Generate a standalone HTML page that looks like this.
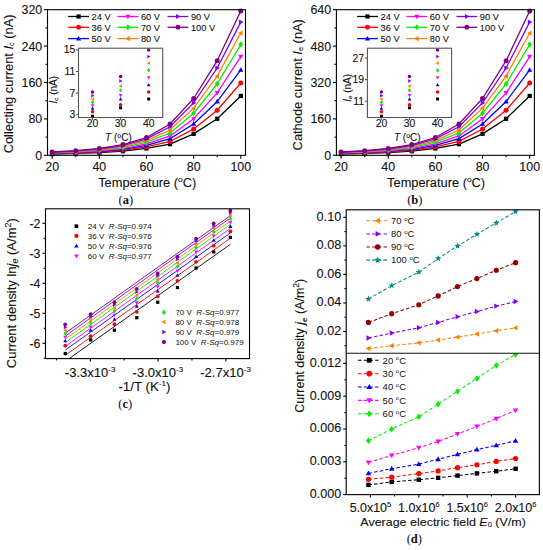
<!DOCTYPE html>
<html><head><meta charset="utf-8"><style>
html,body{margin:0;padding:0;background:#fff;width:543px;height:550px;overflow:hidden}
svg{display:block}
text{font-family:"Liberation Sans",sans-serif;fill:#111;stroke:#111;stroke-width:0.1px}
text.ns{stroke:none}
text.lab{font-family:"Liberation Serif",serif;stroke:none;fill:#111}
</style></head><body>
<svg width="543" height="550" viewBox="0 0 543 550">
<rect width="543" height="550" fill="#fff"/>
<clipPath id="clipab0"><rect x="47.5" y="9.7" width="198" height="145.6"/></clipPath>
<g>
<polyline points="52.21,154.06 75.79,153.35 99.36,152.61 122.93,151.22 146.5,148.48 170.07,144.15 193.64,133.92 217.21,118.76 240.79,95.97" fill="none" stroke="#000000" stroke-width="1.3"/>
<rect x="50.09" y="151.94" width="4.25" height="4.25" fill="#000000"/>
<rect x="73.66" y="151.23" width="4.25" height="4.25" fill="#000000"/>
<rect x="97.23" y="150.49" width="4.25" height="4.25" fill="#000000"/>
<rect x="120.8" y="149.1" width="4.25" height="4.25" fill="#000000"/>
<rect x="144.38" y="146.35" width="4.25" height="4.25" fill="#000000"/>
<rect x="167.95" y="142.03" width="4.25" height="4.25" fill="#000000"/>
<rect x="191.52" y="131.79" width="4.25" height="4.25" fill="#000000"/>
<rect x="215.09" y="116.64" width="4.25" height="4.25" fill="#000000"/>
<rect x="238.66" y="93.84" width="4.25" height="4.25" fill="#000000"/>
<polyline points="52.21,153.69 75.79,153.09 99.36,152.01 122.93,150.34 146.5,146.97 170.07,141.38 193.64,129.05 217.21,110.26 240.79,83" fill="none" stroke="#ff0000" stroke-width="1.3"/>
<circle cx="52.21" cy="153.69" r="2.5" fill="#ff0000"/>
<circle cx="75.79" cy="153.09" r="2.5" fill="#ff0000"/>
<circle cx="99.36" cy="152.01" r="2.5" fill="#ff0000"/>
<circle cx="122.93" cy="150.34" r="2.5" fill="#ff0000"/>
<circle cx="146.5" cy="146.97" r="2.5" fill="#ff0000"/>
<circle cx="170.07" cy="141.38" r="2.5" fill="#ff0000"/>
<circle cx="193.64" cy="129.05" r="2.5" fill="#ff0000"/>
<circle cx="217.21" cy="110.26" r="2.5" fill="#ff0000"/>
<circle cx="240.79" cy="83" r="2.5" fill="#ff0000"/>
<polyline points="52.21,153.41 75.79,152.63 99.36,151.42 122.93,149.34 146.5,145.43 170.07,138.6 193.64,123.95 217.21,101.56 240.79,69.9" fill="none" stroke="#0000ff" stroke-width="1.3"/>
<polygon points="52.21,150.66 49.59,155.29 54.84,155.29" fill="#0000ff"/>
<polygon points="75.79,149.88 73.16,154.5 78.41,154.5" fill="#0000ff"/>
<polygon points="99.36,148.67 96.73,153.3 101.98,153.3" fill="#0000ff"/>
<polygon points="122.93,146.59 120.3,151.21 125.55,151.21" fill="#0000ff"/>
<polygon points="146.5,142.68 143.88,147.3 149.12,147.3" fill="#0000ff"/>
<polygon points="170.07,135.85 167.45,140.48 172.7,140.48" fill="#0000ff"/>
<polygon points="193.64,121.2 191.02,125.83 196.27,125.83" fill="#0000ff"/>
<polygon points="217.21,98.81 214.59,103.44 219.84,103.44" fill="#0000ff"/>
<polygon points="240.79,67.15 238.16,71.77 243.41,71.77" fill="#0000ff"/>
<polyline points="52.21,153.17 75.79,152.29 99.36,150.81 122.93,148.57 146.5,143.83 170.07,135.92 193.64,118.76 217.21,92.97 240.79,56.61" fill="none" stroke="#ff00ff" stroke-width="1.3"/>
<polygon points="52.21,155.92 49.59,151.29 54.84,151.29" fill="#ff00ff"/>
<polygon points="75.79,155.04 73.16,150.42 78.41,150.42" fill="#ff00ff"/>
<polygon points="99.36,153.56 96.73,148.93 101.98,148.93" fill="#ff00ff"/>
<polygon points="122.93,151.32 120.3,146.69 125.55,146.69" fill="#ff00ff"/>
<polygon points="146.5,146.58 143.88,141.96 149.12,141.96" fill="#ff00ff"/>
<polygon points="170.07,138.67 167.45,134.04 172.7,134.04" fill="#ff00ff"/>
<polygon points="193.64,121.51 191.02,116.89 196.27,116.89" fill="#ff00ff"/>
<polygon points="217.21,95.72 214.59,91.09 219.84,91.09" fill="#ff00ff"/>
<polygon points="240.79,59.36 238.16,54.74 243.41,54.74" fill="#ff00ff"/>
<polyline points="52.21,152.89 75.79,151.89 99.36,150.19 122.93,147.61 146.5,142.2 170.07,133 193.64,113.17 217.21,83.91 240.79,44.46" fill="none" stroke="#00f000" stroke-width="1.3"/>
<polygon points="52.21,149.76 54.59,152.89 52.21,156.01 49.84,152.89" fill="#00f000"/>
<polygon points="75.79,148.76 78.16,151.89 75.79,155.01 73.41,151.89" fill="#00f000"/>
<polygon points="99.36,147.07 101.73,150.19 99.36,153.32 96.98,150.19" fill="#00f000"/>
<polygon points="122.93,144.49 125.3,147.61 122.93,150.74 120.55,147.61" fill="#00f000"/>
<polygon points="146.5,139.07 148.88,142.2 146.5,145.32 144.12,142.2" fill="#00f000"/>
<polygon points="170.07,129.88 172.45,133 170.07,136.13 167.7,133" fill="#00f000"/>
<polygon points="193.64,110.04 196.02,113.17 193.64,116.29 191.27,113.17" fill="#00f000"/>
<polygon points="217.21,80.79 219.59,83.91 217.21,87.04 214.84,83.91" fill="#00f000"/>
<polygon points="240.79,41.34 243.16,44.46 240.79,47.59 238.41,44.46" fill="#00f000"/>
<polyline points="52.21,152.61 75.79,151.52 99.36,149.59 122.93,146.66 146.5,140.56 170.07,130.05 193.64,108.16 217.21,76.13 240.79,33.04" fill="none" stroke="#ff8000" stroke-width="1.3"/>
<polygon points="49.46,152.61 54.09,149.99 54.09,155.24" fill="#ff8000"/>
<polygon points="73.04,151.52 77.66,148.89 77.66,154.14" fill="#ff8000"/>
<polygon points="96.61,149.59 101.23,146.97 101.23,152.22" fill="#ff8000"/>
<polygon points="120.18,146.66 124.8,144.03 124.8,149.28" fill="#ff8000"/>
<polygon points="143.75,140.56 148.38,137.93 148.38,143.18" fill="#ff8000"/>
<polygon points="167.32,130.05 171.95,127.42 171.95,132.67" fill="#ff8000"/>
<polygon points="190.89,108.16 195.52,105.54 195.52,110.79" fill="#ff8000"/>
<polygon points="214.46,76.13 219.09,73.51 219.09,78.76" fill="#ff8000"/>
<polygon points="238.04,33.04 242.66,30.42 242.66,35.67" fill="#ff8000"/>
<polyline points="52.21,152.33 75.79,151.09 99.36,149.04 122.93,145.65 146.5,138.92 170.07,126.73 193.64,102.88 217.21,68.03 240.79,22.08" fill="none" stroke="#8000ff" stroke-width="1.3"/>
<polygon points="54.96,152.33 50.34,149.71 50.34,154.96" fill="#8000ff"/>
<polygon points="78.54,151.09 73.91,148.46 73.91,153.71" fill="#8000ff"/>
<polygon points="102.11,149.04 97.48,146.41 97.48,151.66" fill="#8000ff"/>
<polygon points="125.68,145.65 121.05,143.03 121.05,148.28" fill="#8000ff"/>
<polygon points="149.25,138.92 144.62,136.3 144.62,141.55" fill="#8000ff"/>
<polygon points="172.82,126.73 168.2,124.1 168.2,129.35" fill="#8000ff"/>
<polygon points="196.39,102.88 191.77,100.26 191.77,105.51" fill="#8000ff"/>
<polygon points="219.96,68.03 215.34,65.41 215.34,70.66" fill="#8000ff"/>
<polygon points="243.54,22.08 238.91,19.45 238.91,24.7" fill="#8000ff"/>
<polyline points="52.21,152.02 75.79,150.72 99.36,148.48 122.93,144.61 146.5,137.51 170.07,124.04 193.64,98.47 217.21,60.66 240.79,10.97" fill="none" stroke="#800080" stroke-width="1.3"/>
<circle cx="52.21" cy="152.02" r="2.5" fill="#800080"/>
<circle cx="75.79" cy="150.72" r="2.5" fill="#800080"/>
<circle cx="99.36" cy="148.48" r="2.5" fill="#800080"/>
<circle cx="122.93" cy="144.61" r="2.5" fill="#800080"/>
<circle cx="146.5" cy="137.51" r="2.5" fill="#800080"/>
<circle cx="170.07" cy="124.04" r="2.5" fill="#800080"/>
<circle cx="193.64" cy="98.47" r="2.5" fill="#800080"/>
<circle cx="217.21" cy="60.66" r="2.5" fill="#800080"/>
<circle cx="240.79" cy="10.97" r="2.5" fill="#800080"/>
</g>
<rect x="47.5" y="9.7" width="198" height="145.6" fill="none" stroke="#000" stroke-width="1.1"/>
<line x1="52.21" y1="155.3" x2="52.21" y2="158.8" stroke="#000" stroke-width="1.1" />
<line x1="75.79" y1="155.3" x2="75.79" y2="157.3" stroke="#000" stroke-width="1.1" />
<line x1="99.36" y1="155.3" x2="99.36" y2="158.8" stroke="#000" stroke-width="1.1" />
<line x1="122.93" y1="155.3" x2="122.93" y2="157.3" stroke="#000" stroke-width="1.1" />
<line x1="146.5" y1="155.3" x2="146.5" y2="158.8" stroke="#000" stroke-width="1.1" />
<line x1="170.07" y1="155.3" x2="170.07" y2="157.3" stroke="#000" stroke-width="1.1" />
<line x1="193.64" y1="155.3" x2="193.64" y2="158.8" stroke="#000" stroke-width="1.1" />
<line x1="217.21" y1="155.3" x2="217.21" y2="157.3" stroke="#000" stroke-width="1.1" />
<line x1="240.79" y1="155.3" x2="240.79" y2="158.8" stroke="#000" stroke-width="1.1" />
<line x1="47.5" y1="155.3" x2="44" y2="155.3" stroke="#000" stroke-width="1.1" />
<line x1="47.5" y1="137.1" x2="45.5" y2="137.1" stroke="#000" stroke-width="1.1" />
<line x1="47.5" y1="118.9" x2="44" y2="118.9" stroke="#000" stroke-width="1.1" />
<line x1="47.5" y1="100.7" x2="45.5" y2="100.7" stroke="#000" stroke-width="1.1" />
<line x1="47.5" y1="82.5" x2="44" y2="82.5" stroke="#000" stroke-width="1.1" />
<line x1="47.5" y1="64.3" x2="45.5" y2="64.3" stroke="#000" stroke-width="1.1" />
<line x1="47.5" y1="46.1" x2="44" y2="46.1" stroke="#000" stroke-width="1.1" />
<line x1="47.5" y1="27.9" x2="45.5" y2="27.9" stroke="#000" stroke-width="1.1" />
<line x1="47.5" y1="9.7" x2="44" y2="9.7" stroke="#000" stroke-width="1.1" />
<text x="52.21" y="170.6" font-size="12.4" text-anchor="middle" >20</text>
<text x="99.36" y="170.6" font-size="12.4" text-anchor="middle" >40</text>
<text x="146.5" y="170.6" font-size="12.4" text-anchor="middle" >60</text>
<text x="193.64" y="170.6" font-size="12.4" text-anchor="middle" >80</text>
<text x="240.79" y="170.6" font-size="12.4" text-anchor="middle" >100</text>
<text x="42.2" y="159.7" font-size="12.4" text-anchor="end" >0</text>
<text x="42.2" y="123.3" font-size="12.4" text-anchor="end" >80</text>
<text x="42.2" y="86.9" font-size="12.4" text-anchor="end" >160</text>
<text x="42.2" y="50.5" font-size="12.4" text-anchor="end" >240</text>
<text x="42.2" y="14.1" font-size="12.4" text-anchor="end" >320</text>
<text x="147.2" y="187.1" font-size="12.3" text-anchor="middle" textLength="98" lengthAdjust="spacingAndGlyphs">Temperature (<tspan dy="-5" font-size="8">o</tspan><tspan dy="5">C)</tspan></text>
<text transform="translate(13.2,83.85) rotate(-90)" font-size="12.3" text-anchor="middle" textLength="139" lengthAdjust="spacingAndGlyphs">Collecting current <tspan font-style="italic">I</tspan><tspan font-size="7" dy="1">c</tspan><tspan dy="-1"> (nA)</tspan></text>
<text class="lab" x="125.9" y="203.9" font-size="12.5" text-anchor="middle">(<tspan font-weight="bold">a</tspan>)</text>
<line x1="68.2" y1="16.5" x2="89" y2="16.5" stroke="#000000" stroke-width="1.3" />
<rect x="76.52" y="14.42" width="4.17" height="4.17" fill="#000000"/>
<text x="91.6" y="19.8" font-size="9.3" text-anchor="start" >24 V</text>
<line x1="68.2" y1="27.3" x2="89" y2="27.3" stroke="#ff0000" stroke-width="1.3" />
<circle cx="78.6" cy="27.3" r="2.45" fill="#ff0000"/>
<text x="91.6" y="30.6" font-size="9.3" text-anchor="start" >36 V</text>
<line x1="68.2" y1="38.6" x2="89" y2="38.6" stroke="#0000ff" stroke-width="1.3" />
<polygon points="78.6,35.91 76.03,40.44 81.17,40.44" fill="#0000ff"/>
<text x="91.6" y="41.9" font-size="9.3" text-anchor="start" >50 V</text>
<line x1="117.5" y1="16.5" x2="138.3" y2="16.5" stroke="#ff00ff" stroke-width="1.3" />
<polygon points="127.9,19.2 125.33,14.66 130.47,14.66" fill="#ff00ff"/>
<text x="140.9" y="19.8" font-size="9.3" text-anchor="start" >60 V</text>
<line x1="117.5" y1="27.3" x2="138.3" y2="27.3" stroke="#00f000" stroke-width="1.3" />
<polygon points="127.9,24.24 130.23,27.3 127.9,30.36 125.57,27.3" fill="#00f000"/>
<text x="140.9" y="30.6" font-size="9.3" text-anchor="start" >70 V</text>
<line x1="117.5" y1="38.6" x2="138.3" y2="38.6" stroke="#ff8000" stroke-width="1.3" />
<polygon points="125.21,38.6 129.74,36.03 129.74,41.17" fill="#ff8000"/>
<text x="140.9" y="41.9" font-size="9.3" text-anchor="start" >80 V</text>
<line x1="167.5" y1="16.5" x2="188.3" y2="16.5" stroke="#8000ff" stroke-width="1.3" />
<polygon points="180.59,16.5 176.06,13.93 176.06,19.07" fill="#8000ff"/>
<text x="190.9" y="19.8" font-size="9.3" text-anchor="start" >90 V</text>
<line x1="167.5" y1="27.3" x2="188.3" y2="27.3" stroke="#800080" stroke-width="1.3" />
<circle cx="177.9" cy="27.3" r="2.45" fill="#800080"/>
<text x="190.9" y="30.6" font-size="9.3" text-anchor="start" >100 V</text>
<rect x="78.5" y="48.2" width="84.2" height="69.3" fill="#fff" stroke="#555" stroke-width="1.1"/>
<clipPath id="clipin0"><rect x="78.5" y="48.2" width="84.2" height="69.3"/></clipPath>
<g clip-path="url(#clipin0)">
<rect x="91.05" y="114.72" width="2.98" height="2.98" fill="#000000"/>
<rect x="119.11" y="106.3" width="2.98" height="2.98" fill="#000000"/>
<rect x="147.18" y="97.5" width="2.98" height="2.98" fill="#000000"/>
<circle cx="92.53" cy="111.78" r="1.75" fill="#ff0000"/>
<circle cx="120.6" cy="104.71" r="1.75" fill="#ff0000"/>
<circle cx="148.67" cy="91.91" r="1.75" fill="#ff0000"/>
<polygon points="92.53,106.56 90.7,109.8 94.37,109.8" fill="#0000ff"/>
<polygon points="120.6,97.28 118.76,100.51 122.44,100.51" fill="#0000ff"/>
<polygon points="148.67,82.97 146.83,86.2 150.5,86.2" fill="#0000ff"/>
<polygon points="92.53,107.5 90.7,104.26 94.37,104.26" fill="#ff00ff"/>
<polygon points="120.6,97.13 118.76,93.89 122.44,93.89" fill="#ff00ff"/>
<polygon points="148.67,79.53 146.83,76.29 150.5,76.29" fill="#ff00ff"/>
<polygon points="92.53,100.09 94.2,102.28 92.53,104.47 90.87,102.28" fill="#00f000"/>
<polygon points="120.6,88.21 122.26,90.4 120.6,92.59 118.94,90.4" fill="#00f000"/>
<polygon points="148.67,68.12 150.33,70.31 148.67,72.5 147,70.31" fill="#00f000"/>
<polygon points="90.61,98.99 93.85,97.15 93.85,100.82" fill="#ff8000"/>
<polygon points="118.67,86.03 121.91,84.19 121.91,87.86" fill="#ff8000"/>
<polygon points="146.74,63.18 149.98,61.35 149.98,65.02" fill="#ff8000"/>
<polygon points="94.46,95.69 91.22,93.85 91.22,97.53" fill="#8000ff"/>
<polygon points="122.52,80.9 119.29,79.06 119.29,82.73" fill="#8000ff"/>
<polygon points="150.59,56.6 147.35,54.76 147.35,58.43" fill="#8000ff"/>
<circle cx="92.53" cy="92.02" r="1.75" fill="#800080"/>
<circle cx="120.6" cy="76.52" r="1.75" fill="#800080"/>
<circle cx="148.67" cy="49.9" r="1.75" fill="#800080"/>
</g>
<line x1="92.53" y1="117.5" x2="92.53" y2="120" stroke="#555" stroke-width="1.0" />
<text x="92.53" y="127.2" font-size="10.4" text-anchor="middle" >20</text>
<line x1="120.6" y1="117.5" x2="120.6" y2="120" stroke="#555" stroke-width="1.0" />
<text x="120.6" y="127.2" font-size="10.4" text-anchor="middle" >30</text>
<line x1="148.67" y1="117.5" x2="148.67" y2="120" stroke="#555" stroke-width="1.0" />
<text x="148.67" y="127.2" font-size="10.4" text-anchor="middle" >40</text>
<line x1="78.5" y1="114.7" x2="76" y2="114.7" stroke="#555" stroke-width="1.0" />
<text x="75.2" y="118.2" font-size="10.4" text-anchor="end" >3</text>
<line x1="78.5" y1="93.1" x2="76" y2="93.1" stroke="#555" stroke-width="1.0" />
<text x="75.2" y="96.6" font-size="10.4" text-anchor="end" >7</text>
<line x1="78.5" y1="71.5" x2="76" y2="71.5" stroke="#555" stroke-width="1.0" />
<text x="75.2" y="75" font-size="10.4" text-anchor="end" >11</text>
<line x1="78.5" y1="49.9" x2="76" y2="49.9" stroke="#555" stroke-width="1.0" />
<text x="75.2" y="53.4" font-size="10.4" text-anchor="end" >15</text>
<text x="118.4" y="141.4" font-size="10" text-anchor="middle" ><tspan font-style="italic">T</tspan> (<tspan dy="-3.8" font-size="7">o</tspan><tspan dy="3.8">C)</tspan></text>
<text transform="translate(56.6,89.7) rotate(-90)" font-size="10" text-anchor="middle"><tspan font-style="italic">I</tspan><tspan font-size="6" dy="1">c</tspan><tspan dy="-1"> (nA)</tspan></text>
<clipPath id="clipab288"><rect x="336.4" y="9.7" width="198" height="145.6"/></clipPath>
<g>
<polyline points="341.11,154.06 364.69,153.35 388.26,152.61 411.83,151.22 435.4,148.48 458.97,144.15 482.54,133.92 506.11,118.76 529.69,95.97" fill="none" stroke="#000000" stroke-width="1.3"/>
<rect x="338.99" y="151.94" width="4.25" height="4.25" fill="#000000"/>
<rect x="362.56" y="151.23" width="4.25" height="4.25" fill="#000000"/>
<rect x="386.13" y="150.49" width="4.25" height="4.25" fill="#000000"/>
<rect x="409.7" y="149.1" width="4.25" height="4.25" fill="#000000"/>
<rect x="433.27" y="146.35" width="4.25" height="4.25" fill="#000000"/>
<rect x="456.85" y="142.03" width="4.25" height="4.25" fill="#000000"/>
<rect x="480.42" y="131.79" width="4.25" height="4.25" fill="#000000"/>
<rect x="503.99" y="116.64" width="4.25" height="4.25" fill="#000000"/>
<rect x="527.56" y="93.84" width="4.25" height="4.25" fill="#000000"/>
<polyline points="341.11,153.69 364.69,153.09 388.26,152.01 411.83,150.34 435.4,146.97 458.97,141.38 482.54,129.05 506.11,110.26 529.69,83" fill="none" stroke="#ff0000" stroke-width="1.3"/>
<circle cx="341.11" cy="153.69" r="2.5" fill="#ff0000"/>
<circle cx="364.69" cy="153.09" r="2.5" fill="#ff0000"/>
<circle cx="388.26" cy="152.01" r="2.5" fill="#ff0000"/>
<circle cx="411.83" cy="150.34" r="2.5" fill="#ff0000"/>
<circle cx="435.4" cy="146.97" r="2.5" fill="#ff0000"/>
<circle cx="458.97" cy="141.38" r="2.5" fill="#ff0000"/>
<circle cx="482.54" cy="129.05" r="2.5" fill="#ff0000"/>
<circle cx="506.11" cy="110.26" r="2.5" fill="#ff0000"/>
<circle cx="529.69" cy="83" r="2.5" fill="#ff0000"/>
<polyline points="341.11,153.41 364.69,152.63 388.26,151.42 411.83,149.34 435.4,145.43 458.97,138.6 482.54,123.95 506.11,101.56 529.69,69.9" fill="none" stroke="#0000ff" stroke-width="1.3"/>
<polygon points="341.11,150.66 338.49,155.29 343.74,155.29" fill="#0000ff"/>
<polygon points="364.69,149.88 362.06,154.5 367.31,154.5" fill="#0000ff"/>
<polygon points="388.26,148.67 385.63,153.3 390.88,153.3" fill="#0000ff"/>
<polygon points="411.83,146.59 409.2,151.21 414.45,151.21" fill="#0000ff"/>
<polygon points="435.4,142.68 432.77,147.3 438.02,147.3" fill="#0000ff"/>
<polygon points="458.97,135.85 456.35,140.48 461.6,140.48" fill="#0000ff"/>
<polygon points="482.54,121.2 479.92,125.83 485.17,125.83" fill="#0000ff"/>
<polygon points="506.11,98.81 503.49,103.44 508.74,103.44" fill="#0000ff"/>
<polygon points="529.69,67.15 527.06,71.77 532.31,71.77" fill="#0000ff"/>
<polyline points="341.11,153.17 364.69,152.29 388.26,150.81 411.83,148.57 435.4,143.83 458.97,135.92 482.54,118.76 506.11,92.97 529.69,56.61" fill="none" stroke="#ff00ff" stroke-width="1.3"/>
<polygon points="341.11,155.92 338.49,151.29 343.74,151.29" fill="#ff00ff"/>
<polygon points="364.69,155.04 362.06,150.42 367.31,150.42" fill="#ff00ff"/>
<polygon points="388.26,153.56 385.63,148.93 390.88,148.93" fill="#ff00ff"/>
<polygon points="411.83,151.32 409.2,146.69 414.45,146.69" fill="#ff00ff"/>
<polygon points="435.4,146.58 432.77,141.96 438.02,141.96" fill="#ff00ff"/>
<polygon points="458.97,138.67 456.35,134.04 461.6,134.04" fill="#ff00ff"/>
<polygon points="482.54,121.51 479.92,116.89 485.17,116.89" fill="#ff00ff"/>
<polygon points="506.11,95.72 503.49,91.09 508.74,91.09" fill="#ff00ff"/>
<polygon points="529.69,59.36 527.06,54.74 532.31,54.74" fill="#ff00ff"/>
<polyline points="341.11,152.89 364.69,151.89 388.26,150.19 411.83,147.61 435.4,142.2 458.97,133 482.54,113.17 506.11,83.91 529.69,44.46" fill="none" stroke="#00f000" stroke-width="1.3"/>
<polygon points="341.11,149.76 343.49,152.89 341.11,156.01 338.74,152.89" fill="#00f000"/>
<polygon points="364.69,148.76 367.06,151.89 364.69,155.01 362.31,151.89" fill="#00f000"/>
<polygon points="388.26,147.07 390.63,150.19 388.26,153.32 385.88,150.19" fill="#00f000"/>
<polygon points="411.83,144.49 414.2,147.61 411.83,150.74 409.45,147.61" fill="#00f000"/>
<polygon points="435.4,139.07 437.77,142.2 435.4,145.32 433.02,142.2" fill="#00f000"/>
<polygon points="458.97,129.88 461.35,133 458.97,136.13 456.6,133" fill="#00f000"/>
<polygon points="482.54,110.04 484.92,113.17 482.54,116.29 480.17,113.17" fill="#00f000"/>
<polygon points="506.11,80.79 508.49,83.91 506.11,87.04 503.74,83.91" fill="#00f000"/>
<polygon points="529.69,41.34 532.06,44.46 529.69,47.59 527.31,44.46" fill="#00f000"/>
<polyline points="341.11,152.61 364.69,151.52 388.26,149.59 411.83,146.66 435.4,140.56 458.97,130.05 482.54,108.16 506.11,76.13 529.69,33.04" fill="none" stroke="#ff8000" stroke-width="1.3"/>
<polygon points="338.36,152.61 342.99,149.99 342.99,155.24" fill="#ff8000"/>
<polygon points="361.94,151.52 366.56,148.89 366.56,154.14" fill="#ff8000"/>
<polygon points="385.51,149.59 390.13,146.97 390.13,152.22" fill="#ff8000"/>
<polygon points="409.08,146.66 413.7,144.03 413.7,149.28" fill="#ff8000"/>
<polygon points="432.65,140.56 437.27,137.93 437.27,143.18" fill="#ff8000"/>
<polygon points="456.22,130.05 460.85,127.42 460.85,132.67" fill="#ff8000"/>
<polygon points="479.79,108.16 484.42,105.54 484.42,110.79" fill="#ff8000"/>
<polygon points="503.36,76.13 507.99,73.51 507.99,78.76" fill="#ff8000"/>
<polygon points="526.94,33.04 531.56,30.42 531.56,35.67" fill="#ff8000"/>
<polyline points="341.11,152.33 364.69,151.09 388.26,149.04 411.83,145.65 435.4,138.92 458.97,126.73 482.54,102.88 506.11,68.03 529.69,22.08" fill="none" stroke="#8000ff" stroke-width="1.3"/>
<polygon points="343.86,152.33 339.24,149.71 339.24,154.96" fill="#8000ff"/>
<polygon points="367.44,151.09 362.81,148.46 362.81,153.71" fill="#8000ff"/>
<polygon points="391.01,149.04 386.38,146.41 386.38,151.66" fill="#8000ff"/>
<polygon points="414.58,145.65 409.95,143.03 409.95,148.28" fill="#8000ff"/>
<polygon points="438.15,138.92 433.52,136.3 433.52,141.55" fill="#8000ff"/>
<polygon points="461.72,126.73 457.1,124.1 457.1,129.35" fill="#8000ff"/>
<polygon points="485.29,102.88 480.67,100.26 480.67,105.51" fill="#8000ff"/>
<polygon points="508.86,68.03 504.24,65.41 504.24,70.66" fill="#8000ff"/>
<polygon points="532.44,22.08 527.81,19.45 527.81,24.7" fill="#8000ff"/>
<polyline points="341.11,152.02 364.69,150.72 388.26,148.48 411.83,144.61 435.4,137.51 458.97,124.04 482.54,98.47 506.11,60.66 529.69,10.97" fill="none" stroke="#800080" stroke-width="1.3"/>
<circle cx="341.11" cy="152.02" r="2.5" fill="#800080"/>
<circle cx="364.69" cy="150.72" r="2.5" fill="#800080"/>
<circle cx="388.26" cy="148.48" r="2.5" fill="#800080"/>
<circle cx="411.83" cy="144.61" r="2.5" fill="#800080"/>
<circle cx="435.4" cy="137.51" r="2.5" fill="#800080"/>
<circle cx="458.97" cy="124.04" r="2.5" fill="#800080"/>
<circle cx="482.54" cy="98.47" r="2.5" fill="#800080"/>
<circle cx="506.11" cy="60.66" r="2.5" fill="#800080"/>
<circle cx="529.69" cy="10.97" r="2.5" fill="#800080"/>
</g>
<rect x="336.4" y="9.7" width="198" height="145.6" fill="none" stroke="#000" stroke-width="1.1"/>
<line x1="341.11" y1="155.3" x2="341.11" y2="158.8" stroke="#000" stroke-width="1.1" />
<line x1="364.69" y1="155.3" x2="364.69" y2="157.3" stroke="#000" stroke-width="1.1" />
<line x1="388.26" y1="155.3" x2="388.26" y2="158.8" stroke="#000" stroke-width="1.1" />
<line x1="411.83" y1="155.3" x2="411.83" y2="157.3" stroke="#000" stroke-width="1.1" />
<line x1="435.4" y1="155.3" x2="435.4" y2="158.8" stroke="#000" stroke-width="1.1" />
<line x1="458.97" y1="155.3" x2="458.97" y2="157.3" stroke="#000" stroke-width="1.1" />
<line x1="482.54" y1="155.3" x2="482.54" y2="158.8" stroke="#000" stroke-width="1.1" />
<line x1="506.11" y1="155.3" x2="506.11" y2="157.3" stroke="#000" stroke-width="1.1" />
<line x1="529.69" y1="155.3" x2="529.69" y2="158.8" stroke="#000" stroke-width="1.1" />
<line x1="336.4" y1="155.3" x2="332.9" y2="155.3" stroke="#000" stroke-width="1.1" />
<line x1="336.4" y1="137.1" x2="334.4" y2="137.1" stroke="#000" stroke-width="1.1" />
<line x1="336.4" y1="118.9" x2="332.9" y2="118.9" stroke="#000" stroke-width="1.1" />
<line x1="336.4" y1="100.7" x2="334.4" y2="100.7" stroke="#000" stroke-width="1.1" />
<line x1="336.4" y1="82.5" x2="332.9" y2="82.5" stroke="#000" stroke-width="1.1" />
<line x1="336.4" y1="64.3" x2="334.4" y2="64.3" stroke="#000" stroke-width="1.1" />
<line x1="336.4" y1="46.1" x2="332.9" y2="46.1" stroke="#000" stroke-width="1.1" />
<line x1="336.4" y1="27.9" x2="334.4" y2="27.9" stroke="#000" stroke-width="1.1" />
<line x1="336.4" y1="9.7" x2="332.9" y2="9.7" stroke="#000" stroke-width="1.1" />
<text x="341.11" y="170.6" font-size="12.4" text-anchor="middle" >20</text>
<text x="388.26" y="170.6" font-size="12.4" text-anchor="middle" >40</text>
<text x="435.4" y="170.6" font-size="12.4" text-anchor="middle" >60</text>
<text x="482.54" y="170.6" font-size="12.4" text-anchor="middle" >80</text>
<text x="529.69" y="170.6" font-size="12.4" text-anchor="middle" >100</text>
<text x="331.1" y="159.7" font-size="12.4" text-anchor="end" >0</text>
<text x="331.1" y="123.3" font-size="12.4" text-anchor="end" >160</text>
<text x="331.1" y="86.9" font-size="12.4" text-anchor="end" >320</text>
<text x="331.1" y="50.5" font-size="12.4" text-anchor="end" >480</text>
<text x="331.1" y="14.1" font-size="12.4" text-anchor="end" >640</text>
<text x="436.1" y="187.1" font-size="12.3" text-anchor="middle" textLength="98" lengthAdjust="spacingAndGlyphs">Temperature (<tspan dy="-5" font-size="8">o</tspan><tspan dy="5">C)</tspan></text>
<text transform="translate(302.1,84.75) rotate(-90)" font-size="12.3" text-anchor="middle" textLength="131.3" lengthAdjust="spacingAndGlyphs">Cathode current <tspan font-style="italic">I</tspan><tspan font-size="7" dy="1">e</tspan><tspan dy="-1"> (nA)</tspan></text>
<text class="lab" x="414.8" y="203.9" font-size="12.5" text-anchor="middle">(<tspan font-weight="bold">b</tspan>)</text>
<line x1="357.1" y1="16.5" x2="377.9" y2="16.5" stroke="#000000" stroke-width="1.3" />
<rect x="365.42" y="14.42" width="4.17" height="4.17" fill="#000000"/>
<text x="380.5" y="19.8" font-size="9.3" text-anchor="start" >24 V</text>
<line x1="357.1" y1="27.3" x2="377.9" y2="27.3" stroke="#ff0000" stroke-width="1.3" />
<circle cx="367.5" cy="27.3" r="2.45" fill="#ff0000"/>
<text x="380.5" y="30.6" font-size="9.3" text-anchor="start" >36 V</text>
<line x1="357.1" y1="38.6" x2="377.9" y2="38.6" stroke="#0000ff" stroke-width="1.3" />
<polygon points="367.5,35.91 364.93,40.44 370.07,40.44" fill="#0000ff"/>
<text x="380.5" y="41.9" font-size="9.3" text-anchor="start" >50 V</text>
<line x1="406.4" y1="16.5" x2="427.2" y2="16.5" stroke="#ff00ff" stroke-width="1.3" />
<polygon points="416.8,19.2 414.23,14.66 419.37,14.66" fill="#ff00ff"/>
<text x="429.8" y="19.8" font-size="9.3" text-anchor="start" >60 V</text>
<line x1="406.4" y1="27.3" x2="427.2" y2="27.3" stroke="#00f000" stroke-width="1.3" />
<polygon points="416.8,24.24 419.13,27.3 416.8,30.36 414.47,27.3" fill="#00f000"/>
<text x="429.8" y="30.6" font-size="9.3" text-anchor="start" >70 V</text>
<line x1="406.4" y1="38.6" x2="427.2" y2="38.6" stroke="#ff8000" stroke-width="1.3" />
<polygon points="414.1,38.6 418.64,36.03 418.64,41.17" fill="#ff8000"/>
<text x="429.8" y="41.9" font-size="9.3" text-anchor="start" >80 V</text>
<line x1="456.4" y1="16.5" x2="477.2" y2="16.5" stroke="#8000ff" stroke-width="1.3" />
<polygon points="469.49,16.5 464.96,13.93 464.96,19.07" fill="#8000ff"/>
<text x="479.8" y="19.8" font-size="9.3" text-anchor="start" >90 V</text>
<line x1="456.4" y1="27.3" x2="477.2" y2="27.3" stroke="#800080" stroke-width="1.3" />
<circle cx="466.8" cy="27.3" r="2.45" fill="#800080"/>
<text x="479.8" y="30.6" font-size="9.3" text-anchor="start" >100 V</text>
<rect x="367.4" y="48.2" width="84.2" height="69.3" fill="#fff" stroke="#555" stroke-width="1.1"/>
<clipPath id="clipin288"><rect x="367.4" y="48.2" width="84.2" height="69.3"/></clipPath>
<g clip-path="url(#clipin288)">
<rect x="379.95" y="114.72" width="2.98" height="2.98" fill="#000000"/>
<rect x="408.01" y="106.3" width="2.98" height="2.98" fill="#000000"/>
<rect x="436.08" y="97.5" width="2.98" height="2.98" fill="#000000"/>
<circle cx="381.43" cy="111.78" r="1.75" fill="#ff0000"/>
<circle cx="409.5" cy="104.71" r="1.75" fill="#ff0000"/>
<circle cx="437.57" cy="91.91" r="1.75" fill="#ff0000"/>
<polygon points="381.43,106.56 379.6,109.8 383.27,109.8" fill="#0000ff"/>
<polygon points="409.5,97.28 407.66,100.51 411.34,100.51" fill="#0000ff"/>
<polygon points="437.57,82.97 435.73,86.2 439.4,86.2" fill="#0000ff"/>
<polygon points="381.43,107.5 379.6,104.26 383.27,104.26" fill="#ff00ff"/>
<polygon points="409.5,97.13 407.66,93.89 411.34,93.89" fill="#ff00ff"/>
<polygon points="437.57,79.53 435.73,76.29 439.4,76.29" fill="#ff00ff"/>
<polygon points="381.43,100.09 383.1,102.28 381.43,104.47 379.77,102.28" fill="#00f000"/>
<polygon points="409.5,88.21 411.16,90.4 409.5,92.59 407.84,90.4" fill="#00f000"/>
<polygon points="437.57,68.12 439.23,70.31 437.57,72.5 435.9,70.31" fill="#00f000"/>
<polygon points="379.51,98.99 382.75,97.15 382.75,100.82" fill="#ff8000"/>
<polygon points="407.57,86.03 410.81,84.19 410.81,87.86" fill="#ff8000"/>
<polygon points="435.64,63.18 438.88,61.35 438.88,65.02" fill="#ff8000"/>
<polygon points="383.36,95.69 380.12,93.85 380.12,97.53" fill="#8000ff"/>
<polygon points="411.43,80.9 408.19,79.06 408.19,82.73" fill="#8000ff"/>
<polygon points="439.49,56.6 436.25,54.76 436.25,58.43" fill="#8000ff"/>
<circle cx="381.43" cy="92.02" r="1.75" fill="#800080"/>
<circle cx="409.5" cy="76.52" r="1.75" fill="#800080"/>
<circle cx="437.57" cy="49.9" r="1.75" fill="#800080"/>
</g>
<line x1="381.43" y1="117.5" x2="381.43" y2="120" stroke="#555" stroke-width="1.0" />
<text x="381.43" y="127.2" font-size="10.4" text-anchor="middle" >20</text>
<line x1="409.5" y1="117.5" x2="409.5" y2="120" stroke="#555" stroke-width="1.0" />
<text x="409.5" y="127.2" font-size="10.4" text-anchor="middle" >30</text>
<line x1="437.57" y1="117.5" x2="437.57" y2="120" stroke="#555" stroke-width="1.0" />
<text x="437.57" y="127.2" font-size="10.4" text-anchor="middle" >40</text>
<line x1="367.4" y1="101.2" x2="364.9" y2="101.2" stroke="#555" stroke-width="1.0" />
<text x="364.1" y="104.7" font-size="10.4" text-anchor="end" >11</text>
<line x1="367.4" y1="79.6" x2="364.9" y2="79.6" stroke="#555" stroke-width="1.0" />
<text x="364.1" y="83.1" font-size="10.4" text-anchor="end" >19</text>
<line x1="367.4" y1="58" x2="364.9" y2="58" stroke="#555" stroke-width="1.0" />
<text x="364.1" y="61.5" font-size="10.4" text-anchor="end" >27</text>
<text x="407.3" y="141.4" font-size="10" text-anchor="middle" ><tspan font-style="italic">T</tspan> (<tspan dy="-3.8" font-size="7">o</tspan><tspan dy="3.8">C)</tspan></text>
<text transform="translate(350.8,87.8) rotate(-90)" font-size="10" text-anchor="middle"><tspan font-style="italic">I</tspan><tspan font-size="6" dy="1">e</tspan><tspan dy="-1"> (nA)</tspan></text>
<clipPath id="clipc"><rect x="45.5" y="208.8" width="204" height="149.8"/></clipPath>
<g clip-path="url(#clipc)">
<line x1="65.25" y1="361.33" x2="230.38" y2="244.31" stroke="#000000" stroke-width="0.9" />
<line x1="65.25" y1="355.3" x2="230.38" y2="238.22" stroke="#ff0000" stroke-width="0.9" />
<line x1="65.25" y1="350.09" x2="230.38" y2="232.95" stroke="#0000ff" stroke-width="0.9" />
<line x1="65.25" y1="346.39" x2="230.38" y2="228.35" stroke="#ff00ff" stroke-width="0.9" />
<line x1="65.25" y1="342.57" x2="230.38" y2="224.34" stroke="#00f000" stroke-width="0.9" />
<line x1="65.25" y1="339.2" x2="230.38" y2="221.06" stroke="#ff8000" stroke-width="0.9" />
<line x1="65.25" y1="336.05" x2="230.38" y2="218.03" stroke="#8000ff" stroke-width="0.9" />
<line x1="65.25" y1="333.19" x2="230.38" y2="215.6" stroke="#800080" stroke-width="0.9" />
<rect x="63.63" y="351.87" width="3.23" height="3.23" fill="#000000"/>
<rect x="89.04" y="338.27" width="3.23" height="3.23" fill="#000000"/>
<rect x="112.82" y="328.59" width="3.23" height="3.23" fill="#000000"/>
<rect x="135.14" y="316.1" width="3.23" height="3.23" fill="#000000"/>
<rect x="156.11" y="300.64" width="3.23" height="3.23" fill="#000000"/>
<rect x="175.86" y="285.92" width="3.23" height="3.23" fill="#000000"/>
<rect x="194.5" y="266.38" width="3.23" height="3.23" fill="#000000"/>
<rect x="212.1" y="250.31" width="3.23" height="3.23" fill="#000000"/>
<rect x="228.77" y="235.77" width="3.23" height="3.23" fill="#000000"/>
<circle cx="65.25" cy="345.58" r="1.9" fill="#ff0000"/>
<circle cx="90.65" cy="336.13" r="1.9" fill="#ff0000"/>
<circle cx="114.44" cy="324.19" r="1.9" fill="#ff0000"/>
<circle cx="136.75" cy="311.84" r="1.9" fill="#ff0000"/>
<circle cx="157.73" cy="296.29" r="1.9" fill="#ff0000"/>
<circle cx="177.48" cy="280.87" r="1.9" fill="#ff0000"/>
<circle cx="196.11" cy="261.84" r="1.9" fill="#ff0000"/>
<circle cx="213.72" cy="245.65" r="1.9" fill="#ff0000"/>
<circle cx="230.38" cy="231.45" r="1.9" fill="#ff0000"/>
<polygon points="65.25,338.72 63.25,342.23 67.24,342.23" fill="#0000ff"/>
<polygon points="90.65,328.31 88.66,331.83 92.65,331.83" fill="#0000ff"/>
<polygon points="114.44,317.14 112.44,320.65 116.43,320.65" fill="#0000ff"/>
<polygon points="136.75,304.23 134.76,307.75 138.75,307.75" fill="#0000ff"/>
<polygon points="157.73,289.09 155.73,292.61 159.72,292.61" fill="#0000ff"/>
<polygon points="177.48,273.33 175.48,276.84 179.47,276.84" fill="#0000ff"/>
<polygon points="196.11,254.43 194.12,257.95 198.11,257.95" fill="#0000ff"/>
<polygon points="213.72,238.26 211.72,241.78 215.71,241.78" fill="#0000ff"/>
<polygon points="230.38,224.36 228.39,227.88 232.38,227.88" fill="#0000ff"/>
<polygon points="65.25,339.23 63.25,335.71 67.24,335.71" fill="#ff00ff"/>
<polygon points="90.65,328.93 88.66,325.42 92.65,325.42" fill="#ff00ff"/>
<polygon points="114.44,316.91 112.44,313.39 116.43,313.39" fill="#ff00ff"/>
<polygon points="136.75,304.75 134.76,301.24 138.75,301.24" fill="#ff00ff"/>
<polygon points="157.73,288.78 155.73,285.27 159.72,285.27" fill="#ff00ff"/>
<polygon points="177.48,273.03 175.48,269.52 179.47,269.52" fill="#ff00ff"/>
<polygon points="196.11,254.02 194.12,250.5 198.11,250.5" fill="#ff00ff"/>
<polygon points="213.72,237.99 211.72,234.48 215.71,234.48" fill="#ff00ff"/>
<polygon points="230.38,224.21 228.39,220.69 232.38,220.69" fill="#ff00ff"/>
<polygon points="65.25,331.09 67.05,333.47 65.25,335.84 63.44,333.47" fill="#00f000"/>
<polygon points="90.65,320.68 92.46,323.05 90.65,325.43 88.85,323.05" fill="#00f000"/>
<polygon points="114.44,308.59 116.24,310.97 114.44,313.34 112.63,310.97" fill="#00f000"/>
<polygon points="136.75,296.31 138.56,298.68 136.75,301.06 134.95,298.68" fill="#00f000"/>
<polygon points="157.73,280.31 159.53,282.69 157.73,285.06 155.92,282.69" fill="#00f000"/>
<polygon points="177.48,264.37 179.28,266.75 177.48,269.12 175.67,266.75" fill="#00f000"/>
<polygon points="196.11,245.28 197.92,247.65 196.11,250.03 194.31,247.65" fill="#00f000"/>
<polygon points="213.72,229.46 215.52,231.83 213.72,234.21 211.91,231.83" fill="#00f000"/>
<polygon points="230.38,216.26 232.19,218.63 230.38,221.01 228.58,218.63" fill="#00f000"/>
<polygon points="63.16,330.2 66.67,328.21 66.67,332.2" fill="#ff8000"/>
<polygon points="88.56,319.98 92.08,317.98 92.08,321.97" fill="#ff8000"/>
<polygon points="112.35,307.63 115.86,305.64 115.86,309.63" fill="#ff8000"/>
<polygon points="134.66,295.17 138.18,293.17 138.18,297.16" fill="#ff8000"/>
<polygon points="155.64,279.16 159.15,277.16 159.15,281.15" fill="#ff8000"/>
<polygon points="175.39,263.01 178.9,261.01 178.9,265" fill="#ff8000"/>
<polygon points="194.02,244.28 197.54,242.29 197.54,246.28" fill="#ff8000"/>
<polygon points="211.63,228.73 215.14,226.73 215.14,230.72" fill="#ff8000"/>
<polygon points="228.29,215.69 231.81,213.7 231.81,217.69" fill="#ff8000"/>
<polygon points="67.34,327.25 63.82,325.26 63.82,329.25" fill="#8000ff"/>
<polygon points="92.74,316.73 89.23,314.73 89.23,318.72" fill="#8000ff"/>
<polygon points="116.53,304.85 113.01,302.85 113.01,306.84" fill="#8000ff"/>
<polygon points="138.84,291.88 135.33,289.88 135.33,293.87" fill="#8000ff"/>
<polygon points="159.82,275.99 156.3,274 156.3,277.99" fill="#8000ff"/>
<polygon points="179.57,259.3 176.05,257.31 176.05,261.3" fill="#8000ff"/>
<polygon points="198.2,241.1 194.69,239.1 194.69,243.09" fill="#8000ff"/>
<polygon points="215.81,225.81 212.29,223.81 212.29,227.8" fill="#8000ff"/>
<polygon points="232.47,213.12 228.96,211.12 228.96,215.11" fill="#8000ff"/>
<circle cx="65.25" cy="324.28" r="1.9" fill="#800080"/>
<circle cx="90.65" cy="314.21" r="1.9" fill="#800080"/>
<circle cx="114.44" cy="302.26" r="1.9" fill="#800080"/>
<circle cx="136.75" cy="288.79" r="1.9" fill="#800080"/>
<circle cx="157.73" cy="273.52" r="1.9" fill="#800080"/>
<circle cx="177.48" cy="256.61" r="1.9" fill="#800080"/>
<circle cx="196.11" cy="238.67" r="1.9" fill="#800080"/>
<circle cx="213.72" cy="223.37" r="1.9" fill="#800080"/>
<circle cx="230.38" cy="210.71" r="1.9" fill="#800080"/>
</g>
<rect x="45.5" y="208.8" width="204" height="149.8" fill="none" stroke="#000" stroke-width="1.1"/>
<line x1="45.5" y1="223.3" x2="42.5" y2="223.3" stroke="#000" stroke-width="1.1" />
<line x1="45.5" y1="238.3" x2="43.7" y2="238.3" stroke="#000" stroke-width="1.1" />
<text x="40.5" y="227.7" font-size="12.4" text-anchor="end" >-2</text>
<line x1="45.5" y1="253.3" x2="42.5" y2="253.3" stroke="#000" stroke-width="1.1" />
<line x1="45.5" y1="268.3" x2="43.7" y2="268.3" stroke="#000" stroke-width="1.1" />
<text x="40.5" y="257.7" font-size="12.4" text-anchor="end" >-3</text>
<line x1="45.5" y1="283.3" x2="42.5" y2="283.3" stroke="#000" stroke-width="1.1" />
<line x1="45.5" y1="298.3" x2="43.7" y2="298.3" stroke="#000" stroke-width="1.1" />
<text x="40.5" y="287.7" font-size="12.4" text-anchor="end" >-4</text>
<line x1="45.5" y1="313.3" x2="42.5" y2="313.3" stroke="#000" stroke-width="1.1" />
<line x1="45.5" y1="328.3" x2="43.7" y2="328.3" stroke="#000" stroke-width="1.1" />
<text x="40.5" y="317.7" font-size="12.4" text-anchor="end" >-5</text>
<line x1="45.5" y1="343.3" x2="42.5" y2="343.3" stroke="#000" stroke-width="1.1" />
<line x1="45.5" y1="358.3" x2="43.7" y2="358.3" stroke="#000" stroke-width="1.1" />
<text x="40.5" y="347.7" font-size="12.4" text-anchor="end" >-6</text>
<line x1="56.49" y1="358.6" x2="56.49" y2="360.4" stroke="#000" stroke-width="1.1" />
<line x1="90.36" y1="358.6" x2="90.36" y2="361.6" stroke="#000" stroke-width="1.1" />
<line x1="124.23" y1="358.6" x2="124.23" y2="360.4" stroke="#000" stroke-width="1.1" />
<line x1="158.1" y1="358.6" x2="158.1" y2="361.6" stroke="#000" stroke-width="1.1" />
<line x1="191.97" y1="358.6" x2="191.97" y2="360.4" stroke="#000" stroke-width="1.1" />
<line x1="225.84" y1="358.6" x2="225.84" y2="361.6" stroke="#000" stroke-width="1.1" />
<text x="90.06" y="376.5" font-size="12.4" text-anchor="middle" textLength="50.5" lengthAdjust="spacingAndGlyphs">-3.3x10<tspan font-size="7.5" dy="-5">-3</tspan></text>
<text x="157.8" y="376.5" font-size="12.4" text-anchor="middle" textLength="50.5" lengthAdjust="spacingAndGlyphs">-3.0x10<tspan font-size="7.5" dy="-5">-3</tspan></text>
<text x="225.54" y="376.5" font-size="12.4" text-anchor="middle" textLength="50.5" lengthAdjust="spacingAndGlyphs">-2.7x10<tspan font-size="7.5" dy="-5">-3</tspan></text>
<text x="144.4" y="391.2" font-size="12.4" text-anchor="middle" textLength="52" lengthAdjust="spacingAndGlyphs">-1/T (K<tspan font-size="7.5" dy="-5.5">-1</tspan><tspan dy="5.5">)</tspan></text>
<text class="lab" x="125.3" y="408" font-size="12.5" text-anchor="middle">(<tspan font-weight="bold">c</tspan>)</text>
<text transform="translate(15.6,293.2) rotate(-90)" font-size="12.3" text-anchor="middle" textLength="150" lengthAdjust="spacingAndGlyphs">Current density ln<tspan font-style="italic">j</tspan><tspan font-size="8.5" dy="2.5" font-style="italic">e</tspan><tspan dy="-2.5"> (A/m</tspan><tspan font-size="8.5" dy="-5">2</tspan><tspan dy="5">)</tspan></text>
<rect x="74.57" y="224.37" width="3.65" height="3.65" fill="#000000"/>
<text x="87.8" y="229" font-size="8" text-anchor="start" class="ns">24 V&#160; <tspan font-style="italic">R-Sq</tspan>=0.974</text>
<circle cx="76.4" cy="235.9" r="2.15" fill="#ff0000"/>
<text x="87.8" y="238.7" font-size="8" text-anchor="start" class="ns">36 V&#160; <tspan font-style="italic">R-Sq</tspan>=0.976</text>
<polygon points="76.4,243.63 74.14,247.61 78.66,247.61" fill="#0000ff"/>
<text x="87.8" y="248.8" font-size="8" text-anchor="start" class="ns">50 V&#160; <tspan font-style="italic">R-Sq</tspan>=0.976</text>
<polygon points="76.4,258.56 74.14,254.59 78.66,254.59" fill="#ff00ff"/>
<text x="87.8" y="259" font-size="8" text-anchor="start" class="ns">60 V&#160; <tspan font-style="italic">R-Sq</tspan>=0.977</text>
<polygon points="163.9,309.51 165.94,312.2 163.9,314.89 161.86,312.2" fill="#00f000"/>
<text x="175.4" y="315" font-size="8" text-anchor="start" class="ns">70 V&#160; <tspan font-style="italic">R-Sq</tspan>=0.977</text>
<polygon points="161.53,322.1 165.51,319.84 165.51,324.36" fill="#ff8000"/>
<text x="175.4" y="324.9" font-size="8" text-anchor="start" class="ns">80 V&#160; <tspan font-style="italic">R-Sq</tspan>=0.978</text>
<polygon points="166.27,332 162.29,329.74 162.29,334.26" fill="#8000ff"/>
<text x="175.4" y="334.8" font-size="8" text-anchor="start" class="ns">90 V&#160; <tspan font-style="italic">R-Sq</tspan>=0.979</text>
<circle cx="163.9" cy="342.1" r="2.15" fill="#800080"/>
<text x="175.4" y="344.9" font-size="8" text-anchor="start" class="ns">100 V&#160; <tspan font-style="italic">R-Sq</tspan>=0.979</text>
<clipPath id="clipdu"><rect x="346.2" y="209.8" width="193.2" height="143.5"/></clipPath>
<clipPath id="clipdl"><rect x="346.2" y="353.3" width="193.2" height="141.3"/></clipPath>
<g clip-path="url(#clipdl)">
<polyline points="368.46,484.85 391.7,481.91 418.8,479.72 438.16,477.78 457.52,475.59 476.88,473.41 496.24,471.22 515.6,468.78" fill="none" stroke="#000000" stroke-width="1.05" stroke-dasharray="3.5,2.2"/>
<rect x="366.25" y="482.64" width="4.42" height="4.42" fill="#000000"/>
<rect x="389.49" y="479.7" width="4.42" height="4.42" fill="#000000"/>
<rect x="416.59" y="477.51" width="4.42" height="4.42" fill="#000000"/>
<rect x="435.95" y="475.57" width="4.42" height="4.42" fill="#000000"/>
<rect x="455.31" y="473.38" width="4.42" height="4.42" fill="#000000"/>
<rect x="474.67" y="471.2" width="4.42" height="4.42" fill="#000000"/>
<rect x="494.03" y="469.01" width="4.42" height="4.42" fill="#000000"/>
<rect x="513.39" y="466.57" width="4.42" height="4.42" fill="#000000"/>
</g>
<g clip-path="url(#clipdl)">
<polyline points="368.46,479.25 391.7,477.21 418.8,473.55 438.16,470.9 457.52,467.7 476.88,464.8 496.24,461.39 515.6,458.49" fill="none" stroke="#ff0000" stroke-width="1.05" stroke-dasharray="3.5,2.2"/>
<circle cx="368.46" cy="479.25" r="2.6" fill="#ff0000"/>
<circle cx="391.7" cy="477.21" r="2.6" fill="#ff0000"/>
<circle cx="418.8" cy="473.55" r="2.6" fill="#ff0000"/>
<circle cx="438.16" cy="470.9" r="2.6" fill="#ff0000"/>
<circle cx="457.52" cy="467.7" r="2.6" fill="#ff0000"/>
<circle cx="476.88" cy="464.8" r="2.6" fill="#ff0000"/>
<circle cx="496.24" cy="461.39" r="2.6" fill="#ff0000"/>
<circle cx="515.6" cy="458.49" r="2.6" fill="#ff0000"/>
</g>
<g clip-path="url(#clipdl)">
<polyline points="368.46,473.41 391.7,468.71 418.8,464.05 438.16,459.21 457.52,454.36 476.88,449.63 496.24,445.26 515.6,440.81" fill="none" stroke="#0000ff" stroke-width="1.05" stroke-dasharray="3.5,2.2"/>
<polygon points="368.46,470.55 365.73,475.36 371.19,475.36" fill="#0000ff"/>
<polygon points="391.7,465.85 388.97,470.66 394.43,470.66" fill="#0000ff"/>
<polygon points="418.8,461.19 416.07,466 421.53,466" fill="#0000ff"/>
<polygon points="438.16,456.35 435.43,461.16 440.89,461.16" fill="#0000ff"/>
<polygon points="457.52,451.5 454.79,456.31 460.25,456.31" fill="#0000ff"/>
<polygon points="476.88,446.77 474.15,451.58 479.61,451.58" fill="#0000ff"/>
<polygon points="496.24,442.4 493.51,447.21 498.97,447.21" fill="#0000ff"/>
<polygon points="515.6,437.95 512.87,442.76 518.33,442.76" fill="#0000ff"/>
</g>
<g clip-path="url(#clipdl)">
<polyline points="368.46,462.47 391.7,455.51 418.8,447.62 438.16,441.53 457.52,434 476.88,426.47 496.24,418.58 515.6,410.33" fill="none" stroke="#ff00ff" stroke-width="1.05" stroke-dasharray="3.5,2.2"/>
<polygon points="368.46,465.33 365.73,460.52 371.19,460.52" fill="#ff00ff"/>
<polygon points="391.7,458.37 388.97,453.56 394.43,453.56" fill="#ff00ff"/>
<polygon points="418.8,450.48 416.07,445.67 421.53,445.67" fill="#ff00ff"/>
<polygon points="438.16,444.39 435.43,439.58 440.89,439.58" fill="#ff00ff"/>
<polygon points="457.52,436.86 454.79,432.05 460.25,432.05" fill="#ff00ff"/>
<polygon points="476.88,429.33 474.15,424.52 479.61,424.52" fill="#ff00ff"/>
<polygon points="496.24,421.44 493.51,416.63 498.97,416.63" fill="#ff00ff"/>
<polygon points="515.6,413.19 512.87,408.38 518.33,408.38" fill="#ff00ff"/>
</g>
<g clip-path="url(#clipdl)">
<polyline points="368.46,440.81 391.7,428.98 418.8,416.78 438.16,404.23 457.52,391.32 476.88,378.41 496.24,365.5 515.6,354.39" fill="none" stroke="#00f000" stroke-width="1.05" stroke-dasharray="3.5,2.2"/>
<polygon points="368.46,437.56 370.93,440.81 368.46,444.06 365.99,440.81" fill="#00f000"/>
<polygon points="391.7,425.73 394.17,428.98 391.7,432.23 389.23,428.98" fill="#00f000"/>
<polygon points="418.8,413.53 421.27,416.78 418.8,420.03 416.33,416.78" fill="#00f000"/>
<polygon points="438.16,400.98 440.63,404.23 438.16,407.48 435.69,404.23" fill="#00f000"/>
<polygon points="457.52,388.07 459.99,391.32 457.52,394.57 455.05,391.32" fill="#00f000"/>
<polygon points="476.88,375.16 479.35,378.41 476.88,381.66 474.41,378.41" fill="#00f000"/>
<polygon points="496.24,362.25 498.71,365.5 496.24,368.75 493.77,365.5" fill="#00f000"/>
<polygon points="515.6,351.14 518.07,354.39 515.6,357.64 513.13,354.39" fill="#00f000"/>
</g>
<g clip-path="url(#clipdu)">
<polyline points="368.46,348.58 391.7,345.72 418.8,342.87 438.16,340.1 457.52,337.11 476.88,334.06 496.24,330.65 515.6,327.88" fill="none" stroke="#ff8000" stroke-width="1.05" stroke-dasharray="3.5,2.2"/>
<polygon points="365.6,348.58 370.41,345.85 370.41,351.31" fill="#ff8000"/>
<polygon points="388.84,345.72 393.65,342.99 393.65,348.45" fill="#ff8000"/>
<polygon points="415.94,342.87 420.75,340.14 420.75,345.6" fill="#ff8000"/>
<polygon points="435.3,340.1 440.11,337.37 440.11,342.83" fill="#ff8000"/>
<polygon points="454.66,337.11 459.47,334.38 459.47,339.84" fill="#ff8000"/>
<polygon points="474.02,334.06 478.83,331.33 478.83,336.79" fill="#ff8000"/>
<polygon points="493.38,330.65 498.19,327.92 498.19,333.38" fill="#ff8000"/>
<polygon points="512.74,327.88 517.55,325.15 517.55,330.61" fill="#ff8000"/>
</g>
<g clip-path="url(#clipdu)">
<polyline points="368.46,338.04 391.7,333.03 418.8,327.79 438.16,322.45 457.52,316.69 476.88,311.54 496.24,306.11 515.6,301.57" fill="none" stroke="#8000ff" stroke-width="1.05" stroke-dasharray="3.5,2.2"/>
<polygon points="371.32,338.04 366.51,335.31 366.51,340.77" fill="#8000ff"/>
<polygon points="394.56,333.03 389.75,330.3 389.75,335.76" fill="#8000ff"/>
<polygon points="421.66,327.79 416.85,325.06 416.85,330.52" fill="#8000ff"/>
<polygon points="441.02,322.45 436.21,319.72 436.21,325.18" fill="#8000ff"/>
<polygon points="460.38,316.69 455.57,313.96 455.57,319.42" fill="#8000ff"/>
<polygon points="479.74,311.54 474.93,308.81 474.93,314.27" fill="#8000ff"/>
<polygon points="499.1,306.11 494.29,303.38 494.29,308.84" fill="#8000ff"/>
<polygon points="518.46,301.57 513.65,298.84 513.65,304.3" fill="#8000ff"/>
</g>
<g clip-path="url(#clipdu)">
<polyline points="368.46,322.45 391.7,313.7 418.8,304.75 438.16,295.9 457.52,286.59 476.88,278.58 496.24,270.25 515.6,262.66" fill="none" stroke="#990000" stroke-width="1.05" stroke-dasharray="3.5,2.2"/>
<circle cx="368.46" cy="322.45" r="2.6" fill="#990000"/>
<circle cx="391.7" cy="313.7" r="2.6" fill="#990000"/>
<circle cx="418.8" cy="304.75" r="2.6" fill="#990000"/>
<circle cx="438.16" cy="295.9" r="2.6" fill="#990000"/>
<circle cx="457.52" cy="286.59" r="2.6" fill="#990000"/>
<circle cx="476.88" cy="278.58" r="2.6" fill="#990000"/>
<circle cx="496.24" cy="270.25" r="2.6" fill="#990000"/>
<circle cx="515.6" cy="262.66" r="2.6" fill="#990000"/>
</g>
<g clip-path="url(#clipdu)">
<polyline points="368.46,298.99 391.7,285.65 418.8,272.17 438.16,258.49 457.52,245.99 476.88,234.24 496.24,222.96 515.6,211.53" fill="none" stroke="#008b8b" stroke-width="1.05" stroke-dasharray="3.5,2.2"/>
<polygon points="368.46,295.61 369.3,297.84 371.68,297.95 369.82,299.44 370.45,301.73 368.46,300.42 366.48,301.73 367.1,299.44 365.25,297.95 367.62,297.84" fill="#008b8b"/>
<polygon points="391.7,282.27 392.54,284.49 394.91,284.61 393.06,286.09 393.68,288.38 391.7,287.08 389.71,288.38 390.34,286.09 388.48,284.61 390.86,284.49" fill="#008b8b"/>
<polygon points="418.8,268.79 419.64,271.01 422.01,271.12 420.16,272.61 420.79,274.9 418.8,273.6 416.81,274.9 417.44,272.61 415.59,271.12 417.96,271.01" fill="#008b8b"/>
<polygon points="438.16,255.11 439,257.34 441.37,257.45 439.52,258.93 440.15,261.23 438.16,259.92 436.17,261.23 436.8,258.93 434.95,257.45 437.32,257.34" fill="#008b8b"/>
<polygon points="457.52,242.61 458.36,244.83 460.73,244.95 458.88,246.43 459.51,248.73 457.52,247.42 455.53,248.73 456.16,246.43 454.31,244.95 456.68,244.83" fill="#008b8b"/>
<polygon points="476.88,230.86 477.72,233.08 480.09,233.19 478.24,234.68 478.87,236.97 476.88,235.67 474.89,236.97 475.52,234.68 473.67,233.19 476.04,233.08" fill="#008b8b"/>
<polygon points="496.24,219.58 497.08,221.8 499.45,221.91 497.6,223.4 498.23,225.69 496.24,224.39 494.25,225.69 494.88,223.4 493.03,221.91 495.4,221.8" fill="#008b8b"/>
<polygon points="515.6,208.15 516.44,210.37 518.81,210.49 516.96,211.97 517.59,214.27 515.6,212.96 513.61,214.27 514.24,211.97 512.39,210.49 514.76,210.37" fill="#008b8b"/>
</g>
<rect x="346.2" y="209.8" width="193.2" height="284.8" fill="none" stroke="#111" stroke-width="1.2"/>
<line x1="346.2" y1="353.3" x2="539.4" y2="353.3" stroke="#111" stroke-width="1.1" />
<line x1="346.2" y1="331.5" x2="343.2" y2="331.5" stroke="#000" stroke-width="1.1" />
<line x1="346.2" y1="345.77" x2="344.4" y2="345.77" stroke="#000" stroke-width="1.1" />
<text x="341.2" y="334.9" font-size="12.4" text-anchor="end" textLength="24.6" lengthAdjust="spacingAndGlyphs">0.02</text>
<line x1="346.2" y1="302.95" x2="343.2" y2="302.95" stroke="#000" stroke-width="1.1" />
<line x1="346.2" y1="317.22" x2="344.4" y2="317.22" stroke="#000" stroke-width="1.1" />
<text x="341.2" y="306.35" font-size="12.4" text-anchor="end" textLength="24.6" lengthAdjust="spacingAndGlyphs">0.04</text>
<line x1="346.2" y1="274.4" x2="343.2" y2="274.4" stroke="#000" stroke-width="1.1" />
<line x1="346.2" y1="288.67" x2="344.4" y2="288.67" stroke="#000" stroke-width="1.1" />
<text x="341.2" y="277.8" font-size="12.4" text-anchor="end" textLength="24.6" lengthAdjust="spacingAndGlyphs">0.06</text>
<line x1="346.2" y1="245.85" x2="343.2" y2="245.85" stroke="#000" stroke-width="1.1" />
<line x1="346.2" y1="260.12" x2="344.4" y2="260.12" stroke="#000" stroke-width="1.1" />
<text x="341.2" y="249.25" font-size="12.4" text-anchor="end" textLength="24.6" lengthAdjust="spacingAndGlyphs">0.08</text>
<line x1="346.2" y1="217.3" x2="343.2" y2="217.3" stroke="#000" stroke-width="1.1" />
<line x1="346.2" y1="231.57" x2="344.4" y2="231.57" stroke="#000" stroke-width="1.1" />
<text x="341.2" y="220.7" font-size="12.4" text-anchor="end" textLength="24.6" lengthAdjust="spacingAndGlyphs">0.10</text>
<line x1="346.2" y1="494.6" x2="343.2" y2="494.6" stroke="#000" stroke-width="1.1" />
<line x1="346.2" y1="478.2" x2="344.4" y2="478.2" stroke="#000" stroke-width="1.1" />
<text x="341.2" y="498" font-size="12.4" text-anchor="end" textLength="31.4" lengthAdjust="spacingAndGlyphs">0.000</text>
<line x1="346.2" y1="461.8" x2="343.2" y2="461.8" stroke="#000" stroke-width="1.1" />
<line x1="346.2" y1="445.4" x2="344.4" y2="445.4" stroke="#000" stroke-width="1.1" />
<text x="341.2" y="465.2" font-size="12.4" text-anchor="end" textLength="31.4" lengthAdjust="spacingAndGlyphs">0.003</text>
<line x1="346.2" y1="429" x2="343.2" y2="429" stroke="#000" stroke-width="1.1" />
<line x1="346.2" y1="412.6" x2="344.4" y2="412.6" stroke="#000" stroke-width="1.1" />
<text x="341.2" y="432.4" font-size="12.4" text-anchor="end" textLength="31.4" lengthAdjust="spacingAndGlyphs">0.006</text>
<line x1="346.2" y1="396.2" x2="343.2" y2="396.2" stroke="#000" stroke-width="1.1" />
<line x1="346.2" y1="379.8" x2="344.4" y2="379.8" stroke="#000" stroke-width="1.1" />
<text x="341.2" y="399.6" font-size="12.4" text-anchor="end" textLength="31.4" lengthAdjust="spacingAndGlyphs">0.009</text>
<line x1="346.2" y1="363.4" x2="343.2" y2="363.4" stroke="#000" stroke-width="1.1" />
<text x="341.2" y="366.8" font-size="12.4" text-anchor="end" textLength="31.4" lengthAdjust="spacingAndGlyphs">0.012</text>
<line x1="370.4" y1="494.6" x2="370.4" y2="497.6" stroke="#000" stroke-width="1.1" />
<line x1="394.6" y1="494.6" x2="394.6" y2="496.4" stroke="#000" stroke-width="1.1" />
<line x1="418.8" y1="494.6" x2="418.8" y2="497.6" stroke="#000" stroke-width="1.1" />
<line x1="443" y1="494.6" x2="443" y2="496.4" stroke="#000" stroke-width="1.1" />
<line x1="467.2" y1="494.6" x2="467.2" y2="497.6" stroke="#000" stroke-width="1.1" />
<line x1="491.4" y1="494.6" x2="491.4" y2="496.4" stroke="#000" stroke-width="1.1" />
<line x1="515.6" y1="494.6" x2="515.6" y2="497.6" stroke="#000" stroke-width="1.1" />
<text x="370.4" y="511.8" font-size="12.4" text-anchor="middle" textLength="41.5" lengthAdjust="spacingAndGlyphs">5.0x10<tspan font-size="7.4" dy="-5.3">5</tspan></text>
<text x="418.8" y="511.8" font-size="12.4" text-anchor="middle" textLength="41.5" lengthAdjust="spacingAndGlyphs">1.0x10<tspan font-size="7.4" dy="-5.3">6</tspan></text>
<text x="467.2" y="511.8" font-size="12.4" text-anchor="middle" textLength="41.5" lengthAdjust="spacingAndGlyphs">1.5x10<tspan font-size="7.4" dy="-5.3">6</tspan></text>
<text x="515.6" y="511.8" font-size="12.4" text-anchor="middle" textLength="41.5" lengthAdjust="spacingAndGlyphs">2.0x10<tspan font-size="7.4" dy="-5.3">6</tspan></text>
<text x="443.05" y="526.3" font-size="11.8" text-anchor="middle" textLength="165.5" lengthAdjust="spacingAndGlyphs">Average electric field <tspan font-style="italic">E</tspan><tspan font-size="7" dy="1">0</tspan><tspan dy="-1"> (V/m)</tspan></text>
<text class="lab" x="414.3" y="543" font-size="12.5" text-anchor="middle">(<tspan font-weight="bold">d</tspan>)</text>
<text transform="translate(304,345.75) rotate(-90)" font-size="12.3" text-anchor="middle" textLength="134" lengthAdjust="spacingAndGlyphs">Current density <tspan font-style="italic">j</tspan><tspan font-size="8" dy="2.5">e</tspan><tspan dy="-2.5"> (A/m</tspan><tspan font-size="8.5" dy="-5">2</tspan><tspan dy="5">)</tspan></text>
<line x1="366.4" y1="220.8" x2="389" y2="220.8" stroke="#ff8000" stroke-width="1.05" stroke-dasharray="3.5,2.2"/>
<polygon points="374.62,220.8 379.8,217.86 379.8,223.74" fill="#ff8000"/>
<text x="391" y="224.1" font-size="9.5" text-anchor="start" class="ns">70 <tspan dy="-3.5" font-size="6">o</tspan><tspan dy="3.5">C</tspan></text>
<line x1="366.4" y1="233.9" x2="389" y2="233.9" stroke="#8000ff" stroke-width="1.05" stroke-dasharray="3.5,2.2"/>
<polygon points="380.78,233.9 375.6,230.96 375.6,236.84" fill="#8000ff"/>
<text x="391" y="237.2" font-size="9.5" text-anchor="start" class="ns">80 <tspan dy="-3.5" font-size="6">o</tspan><tspan dy="3.5">C</tspan></text>
<line x1="366.4" y1="247" x2="389" y2="247" stroke="#990000" stroke-width="1.05" stroke-dasharray="3.5,2.2"/>
<circle cx="377.7" cy="247" r="2.8" fill="#990000"/>
<text x="391" y="250.3" font-size="9.5" text-anchor="start" class="ns">90 <tspan dy="-3.5" font-size="6">o</tspan><tspan dy="3.5">C</tspan></text>
<line x1="366.4" y1="260.1" x2="389" y2="260.1" stroke="#008b8b" stroke-width="1.05" stroke-dasharray="3.5,2.2"/>
<polygon points="377.7,256.46 378.61,258.85 381.16,258.98 379.16,260.58 379.84,263.04 377.7,261.64 375.56,263.04 376.24,260.58 374.24,258.98 376.79,258.85" fill="#008b8b"/>
<text x="391" y="263.4" font-size="9.5" text-anchor="start" class="ns">100 <tspan dy="-3.5" font-size="6">o</tspan><tspan dy="3.5">C</tspan></text>
<line x1="358" y1="360.3" x2="380.6" y2="360.3" stroke="#000000" stroke-width="1.05" stroke-dasharray="3.5,2.2"/>
<rect x="366.92" y="357.92" width="4.76" height="4.76" fill="#000000"/>
<text x="382.6" y="363.6" font-size="9.5" text-anchor="start" class="ns">20 <tspan dy="-3.5" font-size="6">o</tspan><tspan dy="3.5">C</tspan></text>
<line x1="358" y1="373.65" x2="380.6" y2="373.65" stroke="#ff0000" stroke-width="1.05" stroke-dasharray="3.5,2.2"/>
<circle cx="369.3" cy="373.65" r="2.8" fill="#ff0000"/>
<text x="382.6" y="376.95" font-size="9.5" text-anchor="start" class="ns">30 <tspan dy="-3.5" font-size="6">o</tspan><tspan dy="3.5">C</tspan></text>
<line x1="358" y1="387" x2="380.6" y2="387" stroke="#0000ff" stroke-width="1.05" stroke-dasharray="3.5,2.2"/>
<polygon points="369.3,383.92 366.36,389.1 372.24,389.1" fill="#0000ff"/>
<text x="382.6" y="390.3" font-size="9.5" text-anchor="start" class="ns">40 <tspan dy="-3.5" font-size="6">o</tspan><tspan dy="3.5">C</tspan></text>
<line x1="358" y1="400.35" x2="380.6" y2="400.35" stroke="#ff00ff" stroke-width="1.05" stroke-dasharray="3.5,2.2"/>
<polygon points="369.3,403.43 366.36,398.25 372.24,398.25" fill="#ff00ff"/>
<text x="382.6" y="403.65" font-size="9.5" text-anchor="start" class="ns">50 <tspan dy="-3.5" font-size="6">o</tspan><tspan dy="3.5">C</tspan></text>
<line x1="358" y1="413.7" x2="380.6" y2="413.7" stroke="#00f000" stroke-width="1.05" stroke-dasharray="3.5,2.2"/>
<polygon points="369.3,410.2 371.96,413.7 369.3,417.2 366.64,413.7" fill="#00f000"/>
<text x="382.6" y="417" font-size="9.5" text-anchor="start" class="ns">60 <tspan dy="-3.5" font-size="6">o</tspan><tspan dy="3.5">C</tspan></text>
</svg></body></html>
